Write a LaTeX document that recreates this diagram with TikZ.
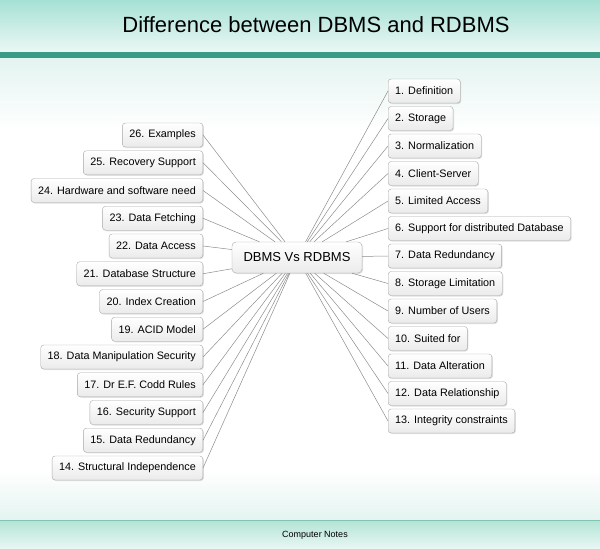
\documentclass[tikz,border=0pt]{standalone}
\usepackage{fontspec}
\setmainfont{Liberation Sans}
\usetikzlibrary{shadows}

\definecolor{headtop}{HTML}{A6E1D5}
\definecolor{headbot}{HTML}{EAF7F4}
\definecolor{barteal}{HTML}{3A9C88}
\definecolor{mint}{HTML}{E4F4F0}
\definecolor{footline}{HTML}{80C4B1}
\definecolor{foottop}{HTML}{B5E5D7}
\definecolor{boxline}{HTML}{A8A8A8}
\definecolor{linkgray}{HTML}{8C8C8C}

\begin{document}
\begin{tikzpicture}[x=1pt, y=-1pt,
	every node/.style={font=\fontsize{10.8}{13}\selectfont},
	item/.style={draw=boxline, rounded corners=3pt, top color=white, bottom color=gray!16, minimum height=24pt, inner xsep=7pt, drop shadow={shadow xshift=1pt, shadow yshift=-1pt, opacity=0.25}},
	link/.style={draw=linkgray, line width=0.5pt}]
	\useasboundingbox (0,0) rectangle (600,549);
	% page background
	\shade[top color=headtop, bottom color=headbot] (0,0) rectangle (600,51);
	\fill[barteal] (0,52) rectangle (600,58);
	\shade[top color=mint, bottom color=white] (0,58) rectangle (600,130);
	\shade[top color=white, bottom color=mint] (0,470) rectangle (600,520);
	\fill[footline] (0,519.5) rectangle (600,521.5);
	\shade[top color=foottop, bottom color=headbot] (0,521.5) rectangle (600,549);
	\node[font=\fontsize{22}{26}\selectfont] (title) at (316,25) {Difference between DBMS and RDBMS};
	\node[font=\fontsize{9}{11}\selectfont] (foot) at (315,535) {Computer Notes};

	\node[item, rounded corners=4pt, minimum width=130pt, minimum height=31pt, font=\fontsize{13}{15}\selectfont] (hub) at (297,257.5) {DBMS Vs RDBMS};

	% right branch
	\node[item, anchor=west] (r1) at (388,91) {1. Definition};
	\node[item, anchor=west] (r2) at (388,118.5) {2. Storage};
	\node[item, anchor=west] (r3) at (388,146) {3. Normalization};
	\node[item, anchor=west] (r4) at (388,173.5) {4. Client-Server};
	\node[item, anchor=west] (r5) at (388,201) {5. Limited Access};
	\node[item, anchor=west] (r6) at (388,228.5) {6. Support for distributed Database};
	\node[item, anchor=west] (r7) at (388,256) {7. Data Redundancy};
	\node[item, anchor=west] (r8) at (388,283.5) {8. Storage Limitation};
	\node[item, anchor=west] (r9) at (388,311) {9. Number of Users};
	\node[item, anchor=west] (r10) at (388,338.5) {10. Suited for};
	\node[item, anchor=west] (r11) at (388,366) {11. Data Alteration};
	\node[item, anchor=west] (r12) at (388,393.5) {12. Data Relationship};
	\node[item, anchor=west] (r13) at (388,421) {13. Integrity constraints};

	% left branch
	\node[item, anchor=east] (l26) at (203,135) {26. Examples};
	\node[item, anchor=east] (l25) at (203,162.75) {25. Recovery Support};
	\node[item, anchor=east] (l24) at (203,190.5) {24. Hardware and software need};
	\node[item, anchor=east] (l23) at (203,218.25) {23. Data Fetching};
	\node[item, anchor=east] (l22) at (203,246) {22. Data Access};
	\node[item, anchor=east] (l21) at (203,273.75) {21. Database Structure};
	\node[item, anchor=east] (l20) at (203,301.5) {20. Index Creation};
	\node[item, anchor=east] (l19) at (203,329.25) {19. ACID Model};
	\node[item, anchor=east] (l18) at (203,357) {18. Data Manipulation Security};
	\node[item, anchor=east] (l17) at (203,384.75) {17. Dr E.F. Codd Rules};
	\node[item, anchor=east] (l16) at (203,412.5) {16. Security Support};
	\node[item, anchor=east] (l15) at (203,440.25) {15. Data Redundancy};
	\node[item, anchor=east] (l14) at (203,468) {14. Structural Independence};

	\draw[link] (hub) -- (r1.west) (hub) -- (r2.west) (hub) -- (r3.west) (hub) -- (r4.west)
		(hub) -- (r5.west) (hub) -- (r6.west) (hub) -- (r7.west) (hub) -- (r8.west)
		(hub) -- (r9.west) (hub) -- (r10.west) (hub) -- (r11.west) (hub) -- (r12.west)
		(hub) -- (r13.west);
	\draw[link] (hub) -- (l26.east) (hub) -- (l25.east) (hub) -- (l24.east) (hub) -- (l23.east)
		(hub) -- (l22.east) (hub) -- (l21.east) (hub) -- (l20.east) (hub) -- (l19.east)
		(hub) -- (l18.east) (hub) -- (l17.east) (hub) -- (l16.east) (hub) -- (l15.east)
		(hub) -- (l14.east);
\end{tikzpicture}
\end{document}
